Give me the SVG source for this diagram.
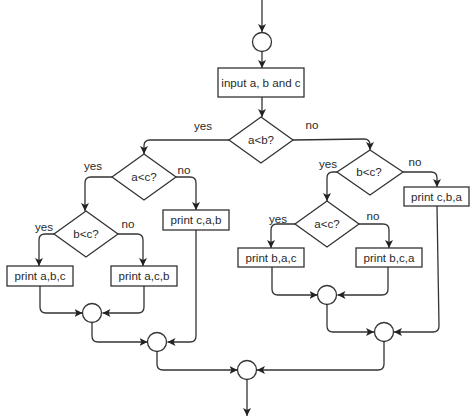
<svg xmlns="http://www.w3.org/2000/svg" width="474" height="420" viewBox="0 0 474 420">
<defs>
<marker id="ar" markerUnits="userSpaceOnUse" markerWidth="10" markerHeight="10" refX="8" refY="4" orient="auto">
<path d="M0,0 L8,4 L0,8 L2,4 Z" fill="#222"/>
</marker>
<style>
.n{fill:#fff;stroke:#333;stroke-width:1.3}
.t{font-family:"Liberation Sans",Arial,sans-serif;font-size:11.6px;fill:#2a2a2a;text-anchor:middle}
.c{fill:none;stroke:#333;stroke-width:1.3;marker-end:url(#ar)}
</style>
</defs>
<rect width="474" height="420" fill="#fff"/>
<g id="connectors">
<path class="c" d="M262,0 L262,32"/>
<path class="c" d="M262,52 L262,68"/>
<path class="c" d="M262,97 L262,117"/>
<path class="c" d="M229,140 L150,140 Q144,140 144,146 L144,154"/>
<path class="c" d="M293,140 L364,139 Q370,139 370,145 L370,150"/>
<path class="c" d="M112,177 L91,177 Q85,177 85,183 L85,211"/>
<path class="c" d="M176,177 L190,177 Q196,177 196,183 L196,210"/>
<path class="c" d="M54,234 L45,234 Q39,234 39,240 L39,266"/>
<path class="c" d="M118,234 L137,234 Q143,234 143,240 L143,266"/>
<path class="c" d="M403,172 L431,172 Q437,172 437,178 L437,187"/>
<path class="c" d="M337,172 L333,172 Q327,172 327,178 L327,201"/>
<path class="c" d="M295,224 L277,224 Q271,224 271,230 L271,248"/>
<path class="c" d="M359,224 L383,224 Q389,224 389,230 L389,248"/>
<path class="c" d="M40,286 L40,307 Q40,313 46,313 L82.5,313"/>
<path class="c" d="M144,286 L144,307 Q144,313 138,313 L102.5,313"/>
<path class="c" d="M92,323 L92,336 Q92,342 98,342 L147.5,342"/>
<path class="c" d="M196,230 L196,336 Q196,342 190,342 L167.5,342"/>
<path class="c" d="M157,352 L157,364 Q157,370 163,370 L237.5,370"/>
<path class="c" d="M247,380 L247,416"/>
<path class="c" d="M272,267 L272,289 Q272,295 278,295 L317.5,295"/>
<path class="c" d="M388,267 L388,289 Q388,295 382,295 L337.5,295"/>
<path class="c" d="M327,305 L327,326 Q327,332 333,332 L374,332"/>
<path class="c" d="M437,206 L439,326 Q439,332 433,332 L394,332"/>
<path class="c" d="M384,342 L384,364 Q384,370 378,370 L257,370"/>
</g>
<g id="start"><circle class="n" cx="262" cy="42" r="9.5"/></g>
<g id="input"><rect class="n" x="218" y="68" width="86" height="29"/><text class="t" x="261" y="86.5">input a, b and c</text></g>
<g id="d_ab"><polygon class="n" points="261,117 293,140 261,163 229,140"/><text class="t" x="261" y="144">a&lt;b?</text></g>
<g id="d_ac_l"><polygon class="n" points="144,154 176,177 144,200 112,177"/><text class="t" x="144" y="181">a&lt;c?</text></g>
<g id="d_bc_l"><polygon class="n" points="86,211 118,234 86,257 54,234"/><text class="t" x="86" y="238">b&lt;c?</text></g>
<g id="d_bc_r"><polygon class="n" points="370,150 403,172 370,195 337,172"/><text class="t" x="369" y="176">b&lt;c?</text></g>
<g id="d_ac_r"><polygon class="n" points="327,201 359,224 327,247 295,224"/><text class="t" x="327" y="228">a&lt;c?</text></g>
<g id="p_cab"><rect class="n" x="163" y="210" width="66" height="20"/><text class="t" x="196" y="224">print c,a,b</text></g>
<g id="p_abc"><rect class="n" x="7" y="266" width="66" height="20"/><text class="t" x="40" y="280">print a,b,c</text></g>
<g id="p_acb"><rect class="n" x="111" y="266" width="66" height="20"/><text class="t" x="144" y="280">print a,c,b</text></g>
<g id="p_cba"><rect class="n" x="404" y="187" width="65" height="19"/><text class="t" x="436.5" y="200.5">print c,b,a</text></g>
<g id="p_bac"><rect class="n" x="238" y="248" width="66" height="19"/><text class="t" x="271" y="261.5">print b,a,c</text></g>
<g id="p_bca"><rect class="n" x="356" y="248" width="66" height="19"/><text class="t" x="389" y="261.5">print b,c,a</text></g>
<g id="j1"><circle class="n" cx="92" cy="313" r="9.5"/></g>
<g id="j2"><circle class="n" cx="157" cy="342" r="9.5"/></g>
<g id="j3"><circle class="n" cx="247" cy="370" r="9.5"/></g>
<g id="j4"><circle class="n" cx="327" cy="295" r="9.5"/></g>
<g id="j5"><circle class="n" cx="384" cy="332" r="9.5"/></g>
<g id="labels">
<text class="t" x="203" y="130">yes</text>
<text class="t" x="312" y="129">no</text>
<text class="t" x="93" y="170">yes</text>
<text class="t" x="184" y="174">no</text>
<text class="t" x="44" y="231">yes</text>
<text class="t" x="128" y="228">no</text>
<text class="t" x="328" y="168">yes</text>
<text class="t" x="415" y="166">no</text>
<text class="t" x="278" y="223">yes</text>
<text class="t" x="373" y="220">no</text>
</g>
</svg>
